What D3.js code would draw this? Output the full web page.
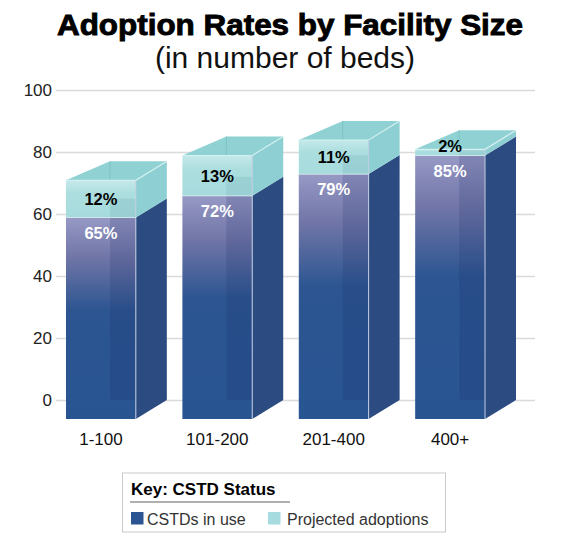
<!DOCTYPE html>
<html>
<head>
<meta charset="utf-8">
<script src="https://cdn.jsdelivr.net/npm/d3@7"></script>
<style>
  body { margin: 0; background: #fff; }
  svg { display: block; font-family: "Liberation Sans", Arial, Helvetica, sans-serif; }
</style>
</head>
<body>
<svg id="chart" width="566" height="549"></svg>
<script>
// ---- Dados
const categories = ['1-100', '101-200', '201-400', '400+'];
const inUse = [65, 72, 79, 85];
const projected = [12, 13, 11, 2];
const yTicks = [0, 20, 40, 60, 80, 100];

const svg = d3.select('#chart');

// ---- Escalas
const y = d3.scaleLinear().domain([0, 100]).range([400, 90]);
const x = d3.scaleBand().domain(categories).range([66, 485]).paddingInner(0.4).paddingOuter(0);

// geometria 3D: face frontal deslocada para baixo, face de trás recuada
const dy = 19;          // front face sits lower than the back wall
const backL = 44;       // back-left corner offset
const backR = 31;       // back-right offset from front right edge
const yF = v => y(v) + dy;

// ---- Gradientes
const defs = svg.append('defs');
const gBlue = defs.append('linearGradient').attr('id', 'gBlue')
  .attr('x1', 0).attr('y1', 0).attr('x2', 0).attr('y2', 1);
gBlue.append('stop').attr('offset', 0).attr('stop-color', '#9799c5');
gBlue.append('stop').attr('offset', 0.2).attr('stop-color', '#7075a7');
gBlue.append('stop').attr('offset', 0.46).attr('stop-color', '#2c5591');
gBlue.append('stop').attr('offset', 1).attr('stop-color', '#285592');

const gCyan = defs.append('linearGradient').attr('id', 'gCyan')
  .attr('x1', 0).attr('y1', 0).attr('x2', 0).attr('y2', 1);
gCyan.append('stop').attr('offset', 0).attr('stop-color', '#c6e9ea');
gCyan.append('stop').attr('offset', 0.35).attr('stop-color', '#acdedf');
gCyan.append('stop').attr('offset', 1).attr('stop-color', '#a6dbdd');

// ---- Título
svg.append('text')
  .attr('x', 290).attr('y', 35)
  .attr('text-anchor', 'middle')
  .attr('font-size', '29px').attr('font-weight', '900')
  .attr('textLength', 466).attr('lengthAdjust', 'spacingAndGlyphs')
  .attr('fill', '#000').attr('stroke', '#000').attr('stroke-width', 0.9)
  .text('Adoption Rates by Facility Size');

svg.append('text')
  .attr('x', 285).attr('y', 68)
  .attr('text-anchor', 'middle')
  .attr('font-size', '30px')
  .attr('fill', '#111')
  .text('(in number of beds)');

// ---- Eixo Y com linhas de grade
const yAxis = d3.axisLeft(y).tickValues(yTicks).tickSize(-(535 - 56)).tickPadding(4);
const gy = svg.append('g')
  .attr('transform', 'translate(56,0)')
  .call(yAxis);
gy.select('.domain').remove();
gy.selectAll('.tick line').attr('stroke', '#dadada').attr('stroke-width', 1.5);
gy.selectAll('.tick text').attr('font-size', '17px').attr('fill', '#222')
  .attr('font-family', '"Liberation Sans", Arial, sans-serif');

// ---- Barras
const bars = categories.map((c, i) => ({ cat: c, blue: inUse[i], cyan: projected[i], total: inUse[i] + projected[i] }));
const w = x.bandwidth();

const sidePoly = (x0, v0, v1) => [
  [x0 + w, yF(v1)], [x0 + w + backR, y(v1)], [x0 + w + backR, y(v0)], [x0 + w, yF(v0)]
].join(' ');
const topPoly = (x0, v) => [
  [x0, yF(v)], [x0 + backL, y(v)], [x0 + w + backR, y(v)], [x0 + w, yF(v)]
].join(' ');

const gBars = svg.append('g').attr('id', 'bars');
bars.forEach(d => {
  const x0 = x(d.cat);
  const g = gBars.append('g');

  // segmento azul (CSTDs in use)
  g.append('polygon').attr('points', sidePoly(x0, 0, d.blue)).attr('fill', '#2b4b81');
  g.append('rect')
    .attr('x', x0).attr('y', yF(d.blue))
    .attr('width', w).attr('height', yF(0) - yF(d.blue))
    .attr('fill', 'url(#gBlue)');
  // parede de trás vista através da face frontal
  g.append('rect')
    .attr('x', x0 + backL).attr('y', yF(d.blue))
    .attr('width', w - backL).attr('height', y(0) - yF(d.blue))
    .attr('fill', '#1a2c62').attr('opacity', 0.17);

  // segmento ciano (Projected adoptions)
  g.append('polygon').attr('points', sidePoly(x0, d.blue, d.total)).attr('fill', '#8dcfd2');
  g.append('rect')
    .attr('x', x0).attr('y', yF(d.total))
    .attr('width', w).attr('height', yF(d.blue) - yF(d.total))
    .attr('fill', 'url(#gCyan)');
  const innerTop = Math.max(y(d.blue), yF(d.total));
  g.append('rect')
    .attr('x', x0 + backL).attr('y', innerTop)
    .attr('width', w - backL).attr('height', Math.max(0, yF(d.blue) - innerTop))
    .attr('fill', '#3c7f8a').attr('opacity', 0.12);

  // topo
  g.append('polygon').attr('points', topPoly(x0, d.total)).attr('fill', '#90d2d4');
  g.append('line')
    .attr('x1', x0 + backL).attr('x2', x0 + backL)
    .attr('y1', y(d.total)).attr('y2', yF(d.total))
    .attr('stroke', '#7fc3c7').attr('stroke-width', 1);

  // arestas claras
  g.append('polyline')
    .attr('points', [[x0, yF(d.total)], [x0 + w, yF(d.total)], [x0 + w + backR, y(d.total)]].join(' '))
    .attr('fill', 'none').attr('stroke', '#d4f0f0').attr('stroke-width', 1.2);
  g.append('line')
    .attr('x1', x0 + w).attr('x2', x0 + w)
    .attr('y1', yF(d.total)).attr('y2', yF(0))
    .attr('stroke', '#c3cde2').attr('stroke-width', 1);
  g.append('line')
    .attr('x1', x0).attr('x2', x0 + w)
    .attr('y1', yF(d.blue)).attr('y2', yF(d.blue))
    .attr('stroke', '#cfe6ea').attr('stroke-width', 1);

  // rótulos
  const cyanMid = (yF(d.total) + yF(d.blue)) / 2;
  g.append('text')
    .attr('x', x0 + w / 2)
    .attr('y', Math.min(cyanMid + 6, yF(d.blue) - 4))
    .attr('text-anchor', 'middle')
    .attr('font-size', '16.5px').attr('font-weight', '700')
    .attr('fill', '#000')
    .text(d.cyan + '%');
  g.append('text')
    .attr('x', x0 + w / 2)
    .attr('y', yF(d.blue) + 21)
    .attr('text-anchor', 'middle')
    .attr('font-size', '16.5px').attr('font-weight', '700')
    .attr('fill', '#fff')
    .text(d.blue + '%');
});

// ---- Eixo X
const xAxis = d3.axisBottom(x).tickSize(0).tickPadding(14);
const gx = svg.append('g')
  .attr('transform', `translate(0,${yF(0)})`)
  .call(xAxis);
gx.select('.domain').remove();
gx.selectAll('.tick text').attr('font-size', '17px').attr('fill', '#111')
  .attr('font-family', '"Liberation Sans", Arial, sans-serif');

// ---- Legenda
const legendItems = [
  { label: 'CSTDs in use', color: '#2a5592', x: 131, tx: 147 },
  { label: 'Projected adoptions', color: '#a6dcdf', x: 268, tx: 287 }
];
const legend = svg.append('g').attr('id', 'legend');
legend.append('rect')
  .attr('x', 122.5).attr('y', 473)
  .attr('width', 323).attr('height', 59)
  .attr('fill', '#fff').attr('stroke', '#cacaca').attr('stroke-width', 1);
legend.append('text')
  .attr('x', 131).attr('y', 495)
  .attr('font-size', '17px').attr('font-weight', '700').attr('fill', '#000')
  .text('Key: CSTD Status');
legend.append('line')
  .attr('x1', 130).attr('x2', 290).attr('y1', 502).attr('y2', 502)
  .attr('stroke', '#b0b0b0').attr('stroke-width', 2);
legend.selectAll('.legend-item')
  .data(legendItems)
  .join('g')
  .attr('class', 'legend-item')
  .each(function (d) {
    const item = d3.select(this);
    item.append('rect')
      .attr('x', d.x).attr('y', 512)
      .attr('width', 12.5).attr('height', 12.5)
      .attr('fill', d.color);
    item.append('text')
      .attr('x', d.tx).attr('y', 524.5)
      .attr('font-size', '16px').attr('fill', '#333')
      .text(d.label);
  });
</script>
</body>
</html>
